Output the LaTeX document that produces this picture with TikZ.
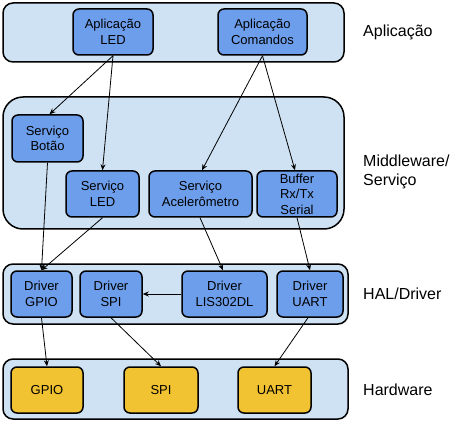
\documentclass[tikz,border=0pt]{standalone}
\usepackage{fontspec}
\setmainfont{Liberation Sans}
\usetikzlibrary{arrows.meta}
\definecolor{layerfill}{HTML}{CFE2F3}
\definecolor{nodefill}{HTML}{6D9EEB}
\definecolor{hwfill}{HTML}{F1C232}
\begin{document}
\begin{tikzpicture}[x=1pt,y=-1pt,
  layer/.style={draw=black,line width=1.5pt,fill=layerfill,rounded corners=10pt},
  blk/.style={draw=black,line width=1.5pt,fill=nodefill,rounded corners=6pt,align=center,inner sep=0pt,font=\fontsize{13}{15.5}\selectfont},
  hw/.style={blk,fill=hwfill},
  lbl/.style={anchor=west,align=left,inner sep=0pt,font=\fontsize{16}{18.5}\selectfont},
  conn/.style={-{Stealth[length=6pt,width=5pt]},line width=0.8pt}]
\useasboundingbox (0,0) rectangle (462,427);
% layers
\draw[layer] (3,3) rectangle (344,62);
\draw[layer,rounded corners=20pt] (3,97) rectangle (344,229);
\draw[layer] (3,264) rectangle (348,324);
\draw[layer] (3,359) rectangle (348,419);
% application
\node[blk,minimum width=80pt,minimum height=46pt] (aled) at (113,32) {Aplicação\\LED};
\node[blk,minimum width=89pt,minimum height=46pt] (acmd) at (262.5,32) {Aplicação\\Comandos};
% middleware
\node[blk,minimum width=71pt,minimum height=47pt] (sbot) at (47.5,138.5) {Serviço\\Botão};
\node[blk,minimum width=73pt,minimum height=46pt] (sled) at (102.5,194) {Serviço\\LED};
\node[blk,minimum width=103pt,minimum height=46pt] (sacel) at (200.5,194) {Serviço\\Acelerômetro};
\node[blk,minimum width=80pt,minimum height=46pt] (sbuf) at (297,194) {Buffer\\Rx/Tx\\Serial};
% drivers
\node[blk,minimum width=61pt,minimum height=46pt] (dgpio) at (41.5,294) {Driver\\GPIO};
\node[blk,minimum width=62pt,minimum height=46pt] (dspi) at (111,294) {Driver\\SPI};
\node[blk,minimum width=85pt,minimum height=46pt] (dlis) at (224.5,294) {Driver\\LIS302DL};
\node[blk,minimum width=66pt,minimum height=46pt] (duart) at (310,294) {Driver\\UART};
% hardware
\node[hw,minimum width=72pt,minimum height=46pt] (hgpio) at (47,390) {GPIO};
\node[hw,minimum width=74pt,minimum height=46pt] (hspi) at (161,390) {SPI};
\node[hw,minimum width=73pt,minimum height=46pt] (huart) at (274.5,390) {UART};
% labels
\node[lbl] (l1) at (363,32) {Aplicação};
\node[lbl] (l2) at (363,172) {Middleware/\\Serviço};
\node[lbl] (l3) at (363,294) {HAL/Driver};
\node[lbl] (l4) at (363,390) {Hardware};
% connectors
\draw[conn] (aled.south) -- ([xshift=2pt]sbot.north);
\draw[conn] (aled.south) -- (sled.north);
\draw[conn] (acmd.south) -- ([xshift=1.5pt]sacel.north);
\draw[conn] (acmd.south) -- ([xshift=-2pt]sbuf.north);
\draw[conn] (sbot.south) -- (dgpio.north);
\draw[conn] (sled.south) -- (dgpio.north);
\draw[conn] ([xshift=-0.5pt]sacel.south) -- ([xshift=-1.5pt]dlis.north);
\draw[conn] (sbuf.south) -- (duart.north);
\draw[conn] (dlis.west) -- (dspi.east);
\draw[conn] (dgpio.south) -- (hgpio.north);
\draw[conn] (dspi.south) -- (hspi.north);
\draw[conn] ([xshift=-2pt]duart.south) -- (huart.north);
\end{tikzpicture}
\end{document}
